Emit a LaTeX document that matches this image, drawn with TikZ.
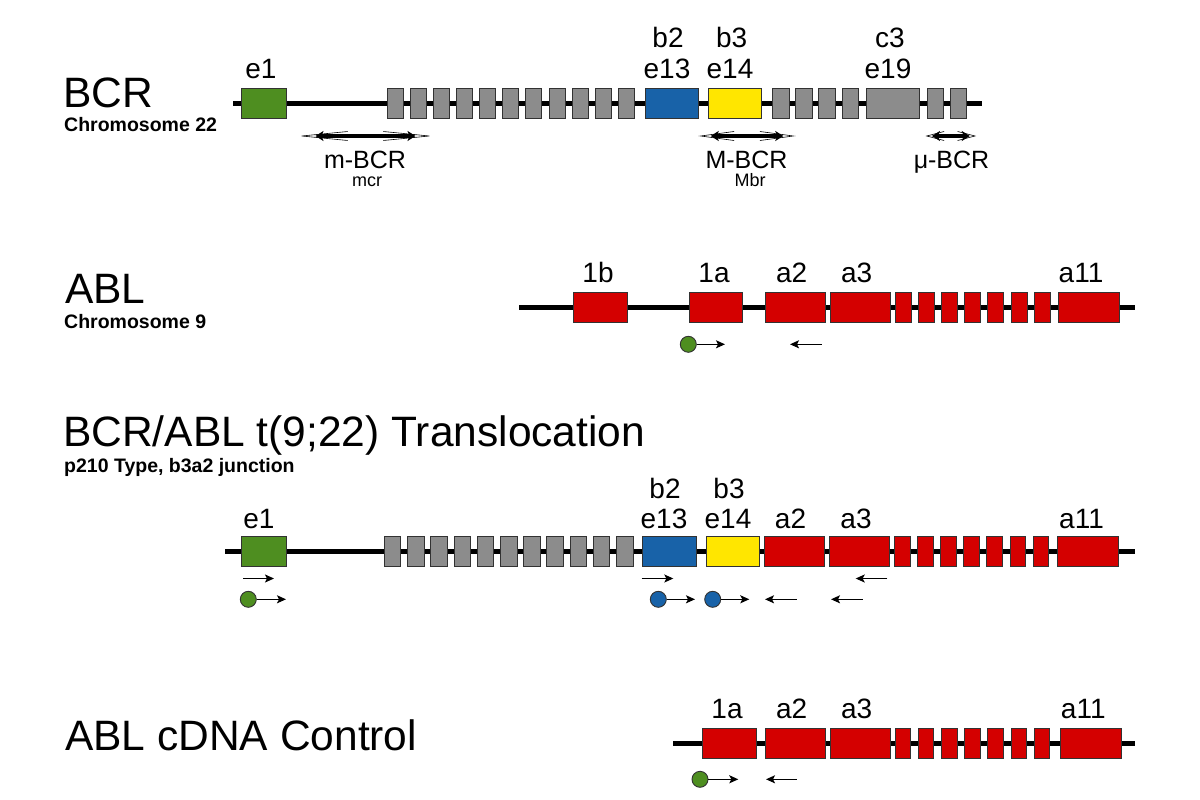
\documentclass[tikz,border=0pt]{standalone}
\usepackage{fontspec}
\setmainfont{Liberation Sans}
\usetikzlibrary{arrows.meta,calc}
\definecolor{exgreen}{RGB}{78,142,32}
\definecolor{exblue}{RGB}{24,98,168}
\definecolor{exyellow}{RGB}{255,230,0}
\definecolor{exred}{RGB}{212,0,0}
\definecolor{exgray}{RGB}{140,140,140}
\definecolor{exline}{RGB}{50,50,50}
\newcommand\exon[5]{% name, style, x1, width, yc
  \pgfmathsetmacro\exW{#4}%
  \pgfmathsetmacro\exX{(#3)+(#4)/2}%
  \node[#2, minimum width=\exW pt] (#1) at (\exX,#5) {};}
\newcommand\dblarr[4]{% name, x1, x2, y
  \pgfmathsetmacro\dah{0.36*((#3)-(#2))}%
  \coordinate (#1l) at (#2,#4);
  \coordinate (#1r) at (#3,#4);
  \draw[headsty] ($(#1l)+(\dah,-4.5)$) -- (#1l) -- ($(#1l)+(\dah,4.5)$);
  \draw[headsty] ($(#1r)+(-\dah,-4.5)$) -- (#1r) -- ($(#1r)+(-\dah,4.5)$);
  \draw[shaftsty] ($(#1l)+(0.3*\dah,0)$) -- ($(#1r)-(0.3*\dah,0)$);}
\tikzset{
  chrom/.style={line width=5pt},
  exon/.style={draw=exline, line width=0.9pt, inner sep=0pt, minimum height=30pt},
  grayex/.style={exon, fill=exgray},
  greenex/.style={exon, fill=exgreen},
  blueex/.style={exon, fill=exblue},
  yellowex/.style={exon, fill=exyellow},
  redex/.style={exon, fill=exred},
  lab/.style={anchor=base, inner sep=0pt, font=\fontsize{28}{32}\selectfont},
  bigtitle/.style={anchor=base west, inner sep=0pt, font=\fontsize{42.5}{48}\selectfont},
  subtitle/.style={anchor=base west, inner sep=0pt, font=\bfseries\fontsize{19.5}{22}\selectfont},
  reglab/.style={anchor=base, inner sep=0pt, font=\fontsize{25}{28}\selectfont},
  reglabs/.style={anchor=base, inner sep=0pt, font=\fontsize{18}{20}\selectfont},
  headsty/.style={draw=black, line width=0.6pt, line join=miter},
  shaftsty/.style={line width=3.2pt, {Stealth[length=8pt,width=10pt,inset=2pt]}-{Stealth[length=8pt,width=10pt,inset=2pt]}},
  primer/.style={line width=1.2pt, -{Stealth[length=9pt,width=8pt,inset=2pt]}},
  greendot/.style={circle, draw=exline, line width=0.9pt, fill=exgreen, minimum size=16pt, inner sep=0pt},
  bluedot/.style={circle, draw=exline, line width=0.9pt, fill=exblue, minimum size=16pt, inner sep=0pt},
}
\begin{document}
\begin{tikzpicture}[x=1pt,y=-1pt]
\useasboundingbox[fill=white] (0,0) rectangle (1200,800);

% ================= BCR =================
\node[bigtitle] (tBCR) at (63,107.3) {BCR};
\node[subtitle] (sBCR) at (64,131.7) {Chromosome 22};
\coordinate (Bs) at (233,103);
\coordinate (Be) at (982,103);
\draw[chrom] (Bs) -- (Be);
\exon{Be1}{greenex}{241.7}{44.3}{103}
\foreach \k in {0,...,10} {\exon{Bg\k}{grayex}{387.3+23.1*\k}{16}{103}}
\exon{Be13}{blueex}{645}{53.3}{103}
\exon{Be14}{yellowex}{708.3}{53.4}{103}
\foreach \k in {0,...,3} {\exon{Bh\k}{grayex}{772.7+23.1*\k}{16.3}{103}}
\exon{Be19}{grayex}{866}{53.3}{103}
\exon{Bi0}{grayex}{927.3}{16}{103}
\exon{Bi1}{grayex}{950.7}{15.5}{103}
\node[lab] (lBe1) at (261,78) {e1};
\node[lab] (lBb2) at (668,48) {b2};
\node[lab] (lBe13) at (667,78) {e13};
\node[lab] (lBb3) at (731.7,48) {b3};
\node[lab] (lBe14) at (730,78) {e14};
\node[lab] (lBc3) at (890,48) {c3};
\node[lab] (lBe19) at (888,78) {e19};
\dblarr{am}{301.7}{429.3}{136}
\dblarr{aM}{700.7}{793.3}{136}
\dblarr{amu}{926.7}{975}{136}
\node[reglab] (lmBCR) at (365,168) {m-BCR};
\node[reglabs] (lmcr) at (367,186.7) {mcr};
\node[reglab] (lMBCR) at (746.5,168) {M-BCR};
\node[reglabs] (lMbr) at (750,186.7) {Mbr};
\node[reglab] (lmuBCR) at (951.5,168) {μ-BCR};

% ================= ABL =================
\node[bigtitle] (tABL) at (65,303) {ABL};
\node[subtitle] (sABL) at (64,328) {Chromosome 9};
\coordinate (As) at (519.3,307.5);
\coordinate (Ae) at (1135,307.5);
\draw[chrom] (As) -- (Ae);
\exon{A1b}{redex}{573.3}{54}{307.5}
\exon{A1a}{redex}{689}{53.7}{307.5}
\exon{Aa2}{redex}{765}{60.3}{307.5}
\exon{Aa3}{redex}{830}{60}{307.5}
\foreach \k in {0,...,6} {\exon{As\k}{redex}{895+23.2*\k}{16}{307.5}}
\exon{Aa11}{redex}{1058}{61.5}{307.5}
\node[lab] (lA1b) at (598,282) {1b};
\node[lab] (lA1a) at (714,282) {1a};
\node[lab] (lAa2) at (791.7,282) {a2};
\node[lab] (lAa3) at (856.7,282) {a3};
\node[lab] (lAa11) at (1081,282) {a11};
\node[greendot] (Ad1) at (688.3,344.3) {};
\coordinate (Ad1e) at (725,344.3);
\draw[primer] (Ad1) -- (Ad1e);
\coordinate (Ar1s) at (821.7,344.3);
\coordinate (Ar1e) at (790,344.3);
\draw[primer] (Ar1s) -- (Ar1e);

% ================= BCR/ABL =================
\node[bigtitle] (tTr) at (63,446) {BCR/ABL t(9;22) Translocation};
\node[subtitle] (sTr) at (64,472) {p210 Type, b3a2 junction};
\coordinate (Ts) at (225,551.7);
\coordinate (Te) at (1135,551.7);
\draw[chrom] (Ts) -- (Te);
\exon{Te1}{greenex}{241.7}{45}{551.7}
\foreach \k in {0,...,10} {\exon{Tg\k}{grayex}{384.3+23.23*\k}{16.5}{551.7}}
\exon{Te13}{blueex}{642.7}{53.3}{551.7}
\exon{Te14}{yellowex}{706}{53.3}{551.7}
\exon{Ta2}{redex}{764}{60.3}{551.7}
\exon{Ta3}{redex}{829}{60.3}{551.7}
\foreach \k in {0,...,6} {\exon{Ts\k}{redex}{894.3+23.15*\k}{15.7}{551.7}}
\exon{Ta11}{redex}{1057.7}{60.6}{551.7}
\node[lab] (lTe1) at (259,528) {e1};
\node[lab] (lTb2) at (665,498) {b2};
\node[lab] (lTe13) at (664,528) {e13};
\node[lab] (lTb3) at (729,498) {b3};
\node[lab] (lTe14) at (728,528) {e14};
\node[lab] (lTa2) at (790.5,528) {a2};
\node[lab] (lTa3) at (856,528) {a3};
\node[lab] (lTa11) at (1081.5,528) {a11};
% first primer row
\coordinate (Tp1s) at (243.3,578.5); \coordinate (Tp1e) at (274,578.5);
\draw[primer] (Tp1s) -- (Tp1e);
\coordinate (Tp2s) at (641.7,578.5); \coordinate (Tp2e) at (673.3,578.5);
\draw[primer] (Tp2s) -- (Tp2e);
\coordinate (Tp3s) at (887.3,578.5); \coordinate (Tp3e) at (855.7,578.5);
\draw[primer] (Tp3s) -- (Tp3e);
% second primer row
\node[greendot] (Td1) at (248.3,599.3) {};
\coordinate (Td1e) at (286,599.3);
\draw[primer] (Td1) -- (Td1e);
\node[bluedot] (Td2) at (658.3,599.3) {};
\coordinate (Td2e) at (695,599.3);
\draw[primer] (Td2) -- (Td2e);
\node[bluedot] (Td3) at (712.7,599.3) {};
\coordinate (Td3e) at (749.3,599.3);
\draw[primer] (Td3) -- (Td3e);
\coordinate (Tq1s) at (796.7,599.3); \coordinate (Tq1e) at (765,599.3);
\draw[primer] (Tq1s) -- (Tq1e);
\coordinate (Tq2s) at (862.7,599.3); \coordinate (Tq2e) at (831,599.3);
\draw[primer] (Tq2s) -- (Tq2e);

% ================= ABL cDNA =================
\node[bigtitle] (tC) at (65,750) {ABL cDNA Control};
\coordinate (Cs) at (673.3,743);
\coordinate (Ce) at (1135,743);
\draw[chrom] (Cs) -- (Ce);
\exon{C1a}{redex}{702.3}{53.7}{743}
\exon{Ca2}{redex}{765}{60}{743}
\exon{Ca3}{redex}{830}{60}{743}
\foreach \k in {0,...,6} {\exon{Cs\k}{redex}{895+23.2*\k}{15.7}{743}}
\exon{Ca11}{redex}{1060}{61}{743}
\node[lab] (lC1a) at (727,718) {1a};
\node[lab] (lCa2) at (791.7,718) {a2};
\node[lab] (lCa3) at (856.7,718) {a3};
\node[lab] (lCa11) at (1083.3,718) {a11};
\node[greendot] (Cd1) at (700,779.3) {};
\coordinate (Cd1e) at (738.3,779.3);
\draw[primer] (Cd1) -- (Cd1e);
\coordinate (Cr1s) at (796.7,779.3);
\coordinate (Cr1e) at (766,779.3);
\draw[primer] (Cr1s) -- (Cr1e);
\end{tikzpicture}
\end{document}
